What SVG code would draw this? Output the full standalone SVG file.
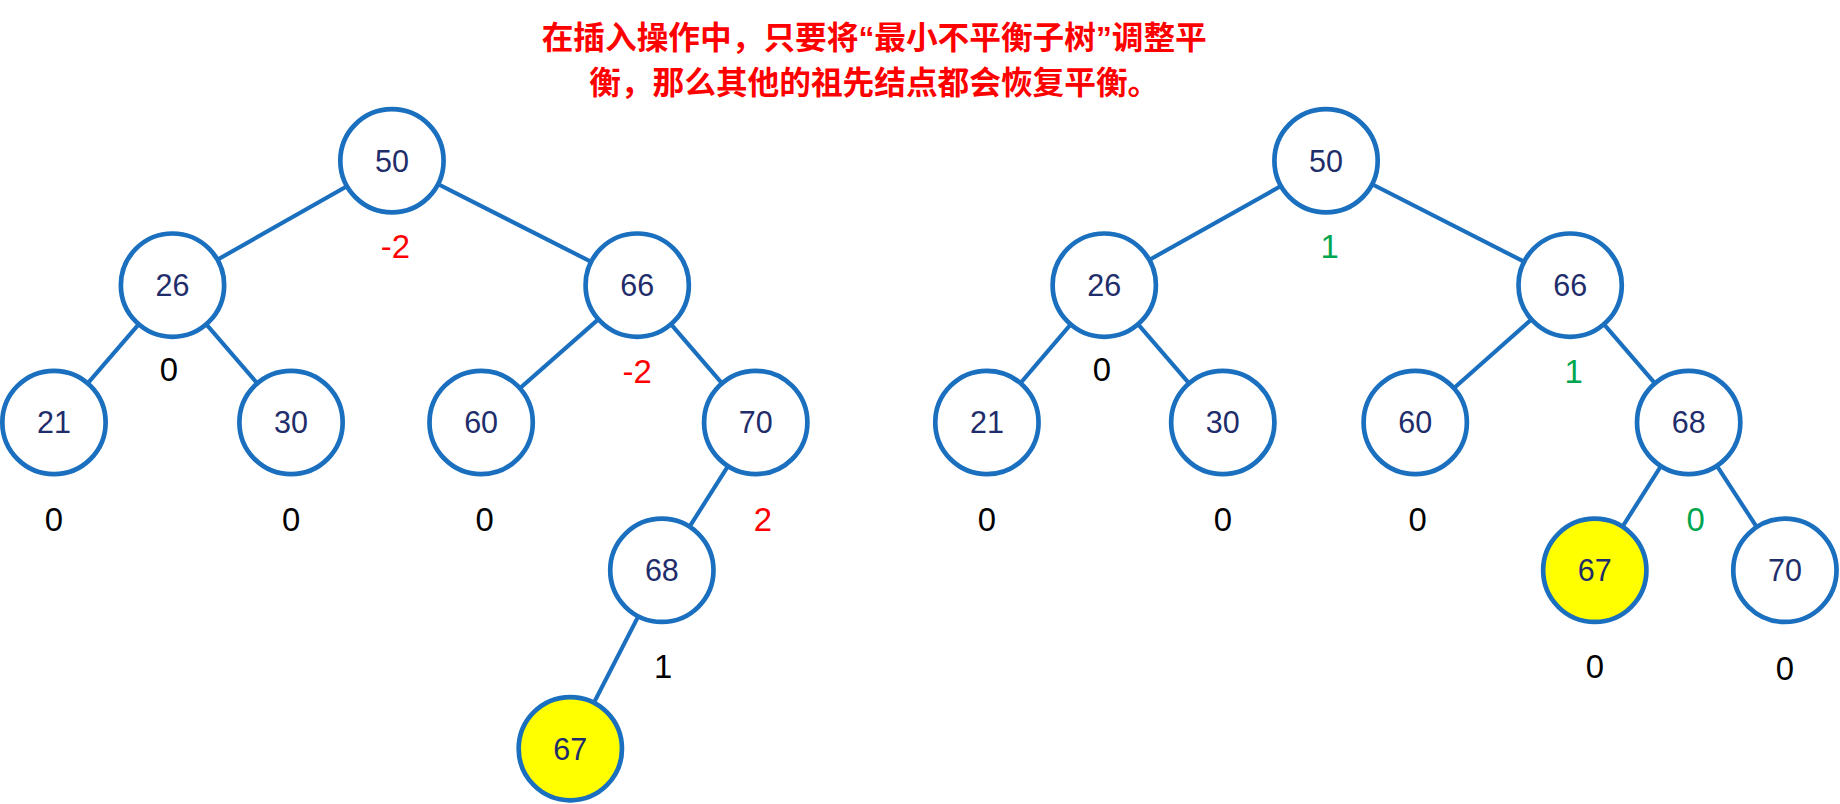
<svg xmlns="http://www.w3.org/2000/svg" width="1840" height="804" viewBox="0 0 1840 804">
<style>
.e{stroke:#1a6fbf;stroke-width:3.5;fill:none}
.n circle{fill:#fff;stroke:#1a6fbf;stroke-width:4}
.n.y circle{fill:#ffff00}
.n text{font-family:"Liberation Sans",Arial,sans-serif;font-size:26px;fill:#1f2d6b;text-anchor:middle;dominant-baseline:central}
.b{font-family:"Liberation Sans",Arial,sans-serif;font-size:28px;text-anchor:middle;dominant-baseline:central;fill:#000}
.r{fill:#ff0000}.g{fill:#00a64f}
.t{font-family:"Liberation Sans","Noto Sans CJK SC",sans-serif;font-size:27px;font-weight:bold;fill:#ff0000;text-anchor:middle}
</style>
<rect width="1840" height="804" fill="#fff"/>
<g transform="scale(1.1735)">
<text class="t" x="745" y="42">在插入操作中，只要将“最小不平衡子树”调整平</text>
<text class="t" x="745" y="80">衡，那么其他的祖先结点都会恢复平衡。</text>
<g id="connectors" class="e">
<line x1="334" y1="137" x2="147" y2="243"/><line x1="334" y1="137" x2="543" y2="243"/>
<line x1="147" y1="243" x2="46" y2="360"/><line x1="147" y1="243" x2="248" y2="360"/>
<line x1="543" y1="243" x2="410" y2="360"/><line x1="543" y1="243" x2="644" y2="360"/>
<line x1="644" y1="360" x2="564" y2="486"/><line x1="564" y1="486" x2="486" y2="638"/>
<line x1="1130" y1="137" x2="941" y2="243"/><line x1="1130" y1="137" x2="1338" y2="243"/>
<line x1="941" y1="243" x2="841" y2="360"/><line x1="941" y1="243" x2="1042" y2="360"/>
<line x1="1338" y1="243" x2="1206" y2="360"/><line x1="1338" y1="243" x2="1439" y2="360"/>
<line x1="1439" y1="360" x2="1359" y2="486"/><line x1="1439" y1="360" x2="1521" y2="486"/>
</g>
<g id="L50" class="n"><circle cx="334" cy="137" r="44"/><text x="334" y="137">50</text></g>
<g id="L26" class="n"><circle cx="147" cy="243" r="44"/><text x="147" y="243">26</text></g>
<g id="L66" class="n"><circle cx="543" cy="243" r="44"/><text x="543" y="243">66</text></g>
<g id="L21" class="n"><circle cx="46" cy="360" r="44"/><text x="46" y="360">21</text></g>
<g id="L30" class="n"><circle cx="248" cy="360" r="44"/><text x="248" y="360">30</text></g>
<g id="L60" class="n"><circle cx="410" cy="360" r="44"/><text x="410" y="360">60</text></g>
<g id="L70" class="n"><circle cx="644" cy="360" r="44"/><text x="644" y="360">70</text></g>
<g id="L68" class="n"><circle cx="564" cy="486" r="44"/><text x="564" y="486">68</text></g>
<g id="L67" class="n y"><circle cx="486" cy="638" r="44"/><text x="486" y="638">67</text></g>
<g id="R50" class="n"><circle cx="1130" cy="137" r="44"/><text x="1130" y="137">50</text></g>
<g id="R26" class="n"><circle cx="941" cy="243" r="44"/><text x="941" y="243">26</text></g>
<g id="R66" class="n"><circle cx="1338" cy="243" r="44"/><text x="1338" y="243">66</text></g>
<g id="R21" class="n"><circle cx="841" cy="360" r="44"/><text x="841" y="360">21</text></g>
<g id="R30" class="n"><circle cx="1042" cy="360" r="44"/><text x="1042" y="360">30</text></g>
<g id="R60" class="n"><circle cx="1206" cy="360" r="44"/><text x="1206" y="360">60</text></g>
<g id="R68" class="n"><circle cx="1439" cy="360" r="44"/><text x="1439" y="360">68</text></g>
<g id="R67" class="n y"><circle cx="1359" cy="486" r="44"/><text x="1359" y="486">67</text></g>
<g id="R70" class="n"><circle cx="1521" cy="486" r="44"/><text x="1521" y="486">70</text></g>
<g id="labels">
<text class="b r" x="337" y="210">-2</text><text class="b" x="144" y="315">0</text>
<text class="b r" x="543" y="317">-2</text>
<text class="b" x="46" y="443">0</text><text class="b" x="248" y="443">0</text><text class="b" x="413" y="443">0</text>
<text class="b r" x="650" y="443">2</text><text class="b" x="565" y="568">1</text>
<text class="b g" x="1133" y="210">1</text><text class="b" x="939" y="315">0</text>
<text class="b g" x="1341" y="317">1</text>
<text class="b" x="841" y="443">0</text><text class="b" x="1042" y="443">0</text><text class="b" x="1208" y="443">0</text>
<text class="b g" x="1445" y="443">0</text>
<text class="b" x="1359" y="568">0</text><text class="b" x="1521" y="570">0</text>
</g>
</g>
</svg>
